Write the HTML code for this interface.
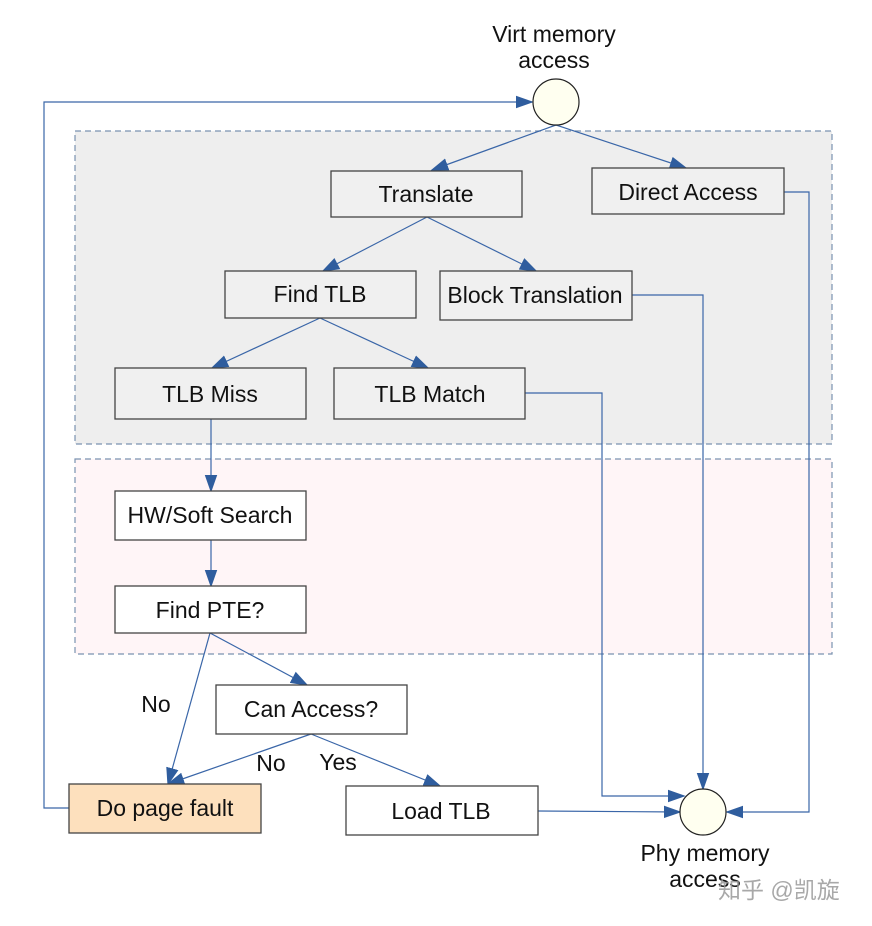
<!DOCTYPE html>
<html><head><meta charset="utf-8"><style>
body{margin:0;background:#fff}
svg{display:block}
text{font-family:"Liberation Sans","Noto Sans CJK SC",sans-serif;font-size:23px;fill:#111}
</style></head><body>
<svg width="872" height="926" viewBox="0 0 872 926" xmlns="http://www.w3.org/2000/svg">
<defs>
<marker id="b" viewBox="0 0 10 10" refX="9" refY="5" markerWidth="18" markerHeight="18" orient="auto" markerUnits="userSpaceOnUse"><path d="M0,1.5L10,5L0,8.5z" fill="#2f5d9e"/></marker>
</defs>
<rect x="75" y="131" width="757" height="313" fill="#eeeeee" stroke="#7a92b0" stroke-width="1.2" stroke-dasharray="6,4"/>
<rect x="75" y="459" width="757" height="195" fill="#fff5f7" stroke="#7a92b0" stroke-width="1.2" stroke-dasharray="6,4"/>
<g fill="none" stroke="#3a66a8" stroke-width="1.2">
<path d="M556,125L432,170" marker-end="url(#b)"/>
<path d="M556,125L686,168" marker-end="url(#b)"/>
<path d="M427,217L323,271" marker-end="url(#b)"/>
<path d="M427,217L536,271" marker-end="url(#b)"/>
<path d="M320,318L212,368" marker-end="url(#b)"/>
<path d="M320,318L428,368" marker-end="url(#b)"/>
<path d="M211,419L211,491" marker-end="url(#b)"/>
<path d="M211,540L211,586" marker-end="url(#b)"/>
<path d="M210,633L307,685" marker-end="url(#b)"/>
<path d="M210,633L168,784" marker-end="url(#b)"/>
<path d="M311,734L168,784" marker-end="url(#b)"/>
<path d="M311,734L440,786" marker-end="url(#b)"/>
<path d="M69,808L44,808L44,102L532,102" marker-end="url(#b)"/>
<path d="M525,393L602,393L602,796L684,796" marker-end="url(#b)"/>
<path d="M632,295L703,295L703,789" marker-end="url(#b)"/>
<path d="M784,192L809,192L809,812L727,812" marker-end="url(#b)"/>
<path d="M538,811L680,812" marker-end="url(#b)"/>
</g>
<circle cx="556" cy="102" r="23" fill="#fffff0" stroke="#222" stroke-width="1.2"/>
<circle cx="703" cy="812" r="23" fill="#fffff0" stroke="#222" stroke-width="1.2"/>
<g stroke="#444" stroke-width="1.3" fill="#f0f0f0">
<rect x="331" y="171" width="191" height="46"/>
<rect x="592" y="168" width="192" height="46"/>
<rect x="225" y="271" width="191" height="47"/>
<rect x="440" y="271" width="192" height="49"/>
<rect x="115" y="368" width="191" height="51"/>
<rect x="334" y="368" width="191" height="51"/>
<rect x="115" y="491" width="191" height="49" fill="#fff"/>
<rect x="115" y="586" width="191" height="47" fill="#fff"/>
<rect x="216" y="685" width="191" height="49" fill="#fff"/>
<rect x="69" y="784" width="192" height="49" fill="#fde0bd"/>
<rect x="346" y="786" width="192" height="49" fill="#fff"/>
</g>
<g text-anchor="middle">
<text x="554" y="42">Virt memory</text>
<text x="554" y="68">access</text>
<text x="426" y="202">Translate</text>
<text x="688" y="200">Direct Access</text>
<text x="320" y="302">Find TLB</text>
<text x="535" y="303">Block Translation</text>
<text x="210" y="402">TLB Miss</text>
<text x="430" y="402">TLB Match</text>
<text x="210" y="523">HW/Soft Search</text>
<text x="210" y="618">Find PTE?</text>
<text x="311" y="717">Can Access?</text>
<text x="165" y="816">Do page fault</text>
<text x="441" y="819">Load TLB</text>
<text x="705" y="861">Phy memory</text>
<text x="705" y="887">access</text>
<text x="156" y="712">No</text>
<text x="271" y="771">No</text>
<text x="338" y="770">Yes</text>
</g>
<text x="718" y="898" style="fill:#999;font-size:23px;opacity:.85">知乎 @凯旋</text>
</svg>
</body></html>
